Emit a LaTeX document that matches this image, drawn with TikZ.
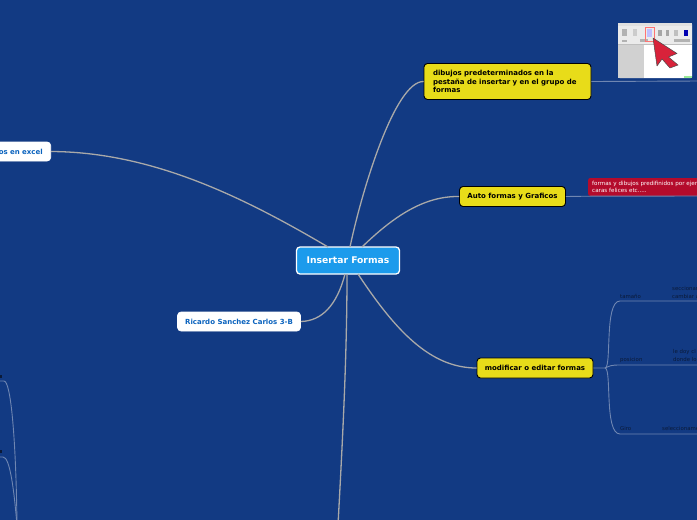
\documentclass[tikz,border=0pt]{standalone}
\usepackage{fontspec}
\setmainfont{DejaVu Sans}
\definecolor{bgblue}{HTML}{123A83}
\definecolor{skyb}{HTML}{1C9BEC}
\definecolor{yel}{HTML}{E8DC19}
\definecolor{crim}{HTML}{B40B2C}
\definecolor{arrowred}{HTML}{D8223A}
\definecolor{linkc}{HTML}{A9A9A9}
\definecolor{sublink}{HTML}{6F86B2}
\definecolor{bluetxt}{HTML}{0B63BE}
\definecolor{darktxt}{HTML}{0B1A38}
\tikzset{
 x=1pt,y=-1pt,
 centralbox/.style={draw=white,line width=1.3pt,fill=skyb,rounded corners=3.5pt,text=white,font=\fontsize{9.2}{11}\selectfont\bfseries,minimum width=103pt,minimum height=27pt,inner sep=0pt},
 yelbox/.style={draw=black,line width=.9pt,fill=yel,rounded corners=3.5pt,text=black,font=\fontsize{7}{8.6}\selectfont\bfseries,inner sep=0pt},
 whitebox/.style={draw=white,line width=.6pt,fill=white,rounded corners=3.5pt,text=bluetxt,font=\fontsize{7}{8}\selectfont\bfseries,inner sep=0pt},
 redbox/.style={fill=crim,rounded corners=2pt,text=white,font=\fontsize{5.6}{7.4}\selectfont,inner xsep=4pt,inner ysep=0pt},
 tiny/.style={text=darktxt,font=\fontsize{5.4}{7.6}\selectfont,inner sep=0pt,anchor=base west,align=left},
 mainlink/.style={draw=linkc,line width=1.3pt},
 sublk/.style={draw=sublink,line width=.9pt},
}
\begin{document}
\begin{tikzpicture}
\useasboundingbox (0,0) rectangle (697,520);
\clip (0,0) rectangle (697,520);
\fill[bgblue] (0,0) rectangle (697,520);

\coordinate (botend) at (338,525);
\coordinate (y1end) at (700,81);
\coordinate (r1end) at (700,196);
\coordinate (lfa) at (-3,381);
\coordinate (lfb) at (-3,457);
\coordinate (lfend) at (17,525);
\coordinate (e1) at (700,301);
\coordinate (e2) at (700,365);
\coordinate (e3) at (700,434);

% nodes
\node[centralbox] (c) at (348,260.5) {Insertar Formas};
\node[yelbox,minimum width=167pt,minimum height=36pt,text width=149pt,align=left] (y1) at (507.5,81.5) {dibujos predeterminados en la\\pestaña de insertar y en el grupo de\\formas};
\node[yelbox,minimum width=106pt,minimum height=20pt] (y2) at (512.5,196.5) {Auto formas y Graficos};
\node[yelbox,minimum width=116pt,minimum height=20pt] (y3) at (535,368) {modificar o editar formas};
\node[whitebox,minimum width=123pt,minimum height=19pt] (w1) at (239,321.5) {Ricardo Sanchez Carlos 3-B};
\node[whitebox,minimum height=19pt,anchor=east,text width=112pt,align=right] (w2) at (51,151.5) {os en excel\hspace*{8pt}};
\node[redbox,minimum height=18pt,anchor=west,text width=150pt,align=left] (r1) at (588,187) {formas y dibujos predifinidos por ejem\\caras felices etc.....};

% main connectors
\draw[mainlink] (350,247) .. controls (362,190) and (395,81) .. (y1.west);
\draw[mainlink] (362,247) .. controls (395,215) and (425,196) .. (y2.west);
\draw[mainlink] (358,274) .. controls (395,330) and (430,368) .. (y3.west);
\draw[mainlink] (345,274) .. controls (337,305) and (322,321) .. (w1.east);
\draw[mainlink] (328,247) .. controls (240,195) and (150,152) .. (w2.east);
\draw[mainlink] (347,274) .. controls (347,360) and (342,450) .. (botend);

\draw[sublk] (y1.east) -- (y1end);
\draw[sublk] (y2.east) -- (r1.south west);
\draw[sublk] (r1.south west) -- (r1end);

\draw[sublk] (y3.east) -- (605,368) .. controls (612,368) and (604,301) .. (620,301) -- (e1);
\draw[sublk] (605,368) .. controls (610,366) and (610,365) .. (620,365) -- (e2);
\draw[sublk] (605,368) .. controls (612,368) and (604,434) .. (620,434) -- (e3);

\draw[sublk] (lfa) -- (4,381) .. controls (11,381) and (16,440) .. (lfend);
\draw[sublk] (lfb) -- (3,457) .. controls (10,457) and (14,490) .. (lfend);
\fill[darktxt] (-1,374.5) rectangle (1.5,378);
\fill[darktxt] (-1,449.5) rectangle (1.5,453);

% tiny labels
\node[tiny] (t1) at (620,298) {tamaño};
\node[tiny] (t2) at (620,361) {posicion};
\node[tiny] (t3) at (620,430) {Giro};
\node[tiny] (t4) at (672,298) {seccionar\\cambiar a};
\node[tiny] (t5) at (673,361) {le doy cl\\donde lo};
\node[tiny] (t6) at (662,430) {seleccioname};

% picture
\fill[white,rounded corners=1.5pt] (618,23) rectangle (692,78);
\fill[black!12] (618,23) rectangle (692,26);
\fill[black!8] (618,26) rectangle (692,44);
\fill[black!25] (618,43.5) rectangle (692,45);
\fill[black!18] (618,45) rectangle (644,78);
\fill[black!30] (622,29) rectangle (627,36);
\fill[black!20] (633,29) rectangle (637,36);
\fill[black!35] (658,30) rectangle (662,36);
\fill[black!35] (666,30) rectangle (669,36);
\fill[black!25] (674,30) rectangle (678,36);
\fill[blue!70!black] (684,30) rectangle (688,36);
\fill[black!30] (622,40) rectangle (627,42);
\fill[black!30] (640,39) rectangle (648,42);
\fill[black!30] (674,39) rectangle (690,42);
\fill[black!20!green!40] (684,76) rectangle (692,78);
\fill[blue!25] (647,29) rectangle (652,37);
\draw[red!40!pink,line width=.9pt] (645,27) rectangle (654,41);
\fill[arrowred,draw=black!70,line width=.5pt,line join=round] (653,38) -- (677,53.5) -- (668.5,57) -- (678,65) -- (670,68) -- (662,59) -- (657,66) -- cycle;
\end{tikzpicture}
\end{document}
